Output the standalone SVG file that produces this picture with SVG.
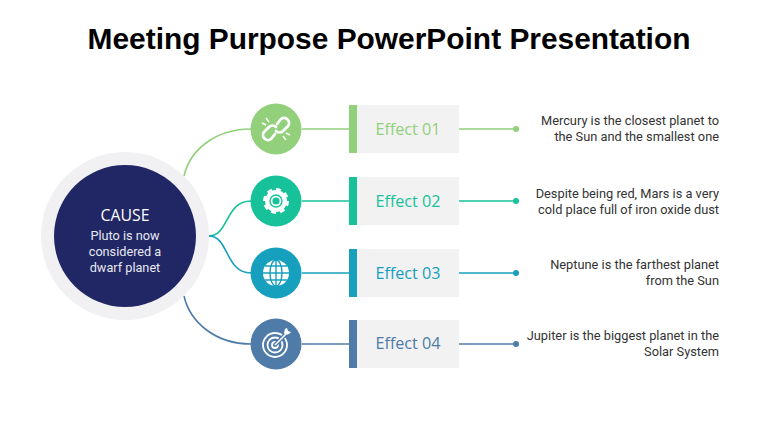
<svg xmlns="http://www.w3.org/2000/svg" width="768" height="432" viewBox="0 0 768 432">
<style>
.t{font-family:"Liberation Sans",Arial,sans-serif;font-weight:700;font-size:29.9px;fill:#000}
.b{font-family:Roboto,"Liberation Sans",sans-serif;font-size:12.8px;fill:#333;text-anchor:end}
.e{font-family:"Open Sans","Noto Sans",sans-serif;font-size:16.2px;text-anchor:middle}
.w{font-family:Roboto,sans-serif;font-size:12.7px;fill:#e8e8f0;text-anchor:middle}
.c{fill:none;stroke-width:1.6}
.i{fill:none;stroke:#fff}
.g1{stroke:#93d07c}.g2{stroke:#17c29b}.g3{stroke:#17a0bd}.g4{stroke:#4f7ba8}
.f1{fill:#93d07c}.f2{fill:#17c29b}.f3{fill:#17a0bd}.f4{fill:#4f7ba8}
</style>
<rect width="768" height="432" fill="#fff"/>
<text class="t" x="389" y="49" text-anchor="middle">Meeting Purpose PowerPoint Presentation</text>
<g id="connectors">
<path class="c g1" d="M184 176C190 150 215 129 251 129M302 129H349M459 129H516"/>
<path class="c g2" d="M209 236C229 236 225 201 251 201M302 201H349M459 201H516"/>
<path class="c g3" d="M209 236C229 236 225 273 251 273M302 273H349M459 273H516"/>
<path class="c g4" d="M184 296C190 322 215 344 251 344M302 344H349M459 344H516"/>
<circle class="f1" cx="516" cy="129" r="3"/><circle class="f2" cx="516" cy="201" r="3"/><circle class="f3" cx="516" cy="273" r="3"/><circle class="f4" cx="516" cy="344" r="3"/>
</g>
<g id="cause">
<circle cx="125" cy="236" r="84" fill="#f1f1f3"/>
<circle cx="125" cy="236" r="71" fill="#202764"/>
<text x="125" y="221" font-family="'Open Sans','Noto Sans',sans-serif" font-size="15.8" fill="#fff" text-anchor="middle">CAUSE</text>
<text class="w"><tspan x="125" y="240">Pluto is now</tspan><tspan x="125" y="256">considered a</tspan><tspan x="125" y="272">dwarf planet</tspan></text>
</g>
<g id="icon1"><circle class="f1" cx="276" cy="129" r="25.5"/>
<g class="i" style="stroke-width:2.8;stroke-linecap:round"><path d="M277 124l4-5a5 5 0 0 1 7 7l-5 5a5 5 0 0 1-7 0M275 134l-4 5a5 5 0 0 1-7-7l5-5a5 5 0 0 1 7 0"/></g>
<path class="i" style="stroke-width:1.5" d="M266 118l3 4M262 123l4 2M286 140l-3-4M290 135l-4-2"/></g>
<g id="icon2"><circle class="f2" cx="276" cy="201" r="25.5"/>
<circle cx="276" cy="201" r="11" fill="none" stroke="#fff" stroke-width="4" stroke-dasharray="4.6 4"/><circle cx="276" cy="201" r="11" fill="#fff"/><circle cx="276" cy="201" r="6" fill="none" stroke="#17c29b" stroke-width="1.4"/><circle cx="276" cy="201" r="3.6" fill="#17c29b"/></g>
<g id="icon3"><circle class="f3" cx="276" cy="273" r="25.5"/>
<circle cx="276" cy="273" r="13" fill="#fff"/>
<g fill="none" stroke="#17a0bd" stroke-width="1.4"><ellipse cx="276" cy="273" rx="6" ry="13"/><path d="M276 260v26M263 273h26M265 266h22M265 280h22"/></g></g>
<g id="icon4"><circle class="f4" cx="276" cy="344" r="25.5"/>
<g class="i" style="stroke-width:1.8"><circle cx="275" cy="345" r="12"/><circle cx="275" cy="345" r="7.5"/><circle cx="275" cy="345" r="3"/></g>
<path d="M275 345l10-10" stroke="#4f7ba8" stroke-width="4"/><path d="M275 345l11-11" stroke="#fff" stroke-width="1.6"/><path fill="#fff" d="M284 333l1-4 2-1 1 3 3 1-2 2-4 1z"/></g>
<g id="effect1"><rect x="349" y="105" width="110" height="48" fill="#f2f2f2"/><rect x="349" y="105" width="8" height="48" class="f1"/><text class="e" x="408" y="135" fill="#93d07c">Effect 01</text></g>
<g id="effect2"><rect x="349" y="177" width="110" height="48" fill="#f2f2f2"/><rect x="349" y="177" width="8" height="48" class="f2"/><text class="e" x="408" y="207" fill="#17c29b">Effect 02</text></g>
<g id="effect3"><rect x="349" y="249" width="110" height="48" fill="#f2f2f2"/><rect x="349" y="249" width="8" height="48" class="f3"/><text class="e" x="408" y="279" fill="#17a0bd">Effect 03</text></g>
<g id="effect4"><rect x="349" y="320" width="110" height="48" fill="#f2f2f2"/><rect x="349" y="320" width="8" height="48" class="f4"/><text class="e" x="408" y="349" fill="#4f7ba8">Effect 04</text></g>
<g id="desc1"><text class="b"><tspan x="719" y="125">Mercury is the closest planet to</tspan><tspan x="719" y="141">the Sun and the smallest one</tspan></text></g>
<g id="desc2"><text class="b"><tspan x="719" y="198">Despite being red, Mars is a very</tspan><tspan x="719" y="214">cold place full of iron oxide dust</tspan></text></g>
<g id="desc3"><text class="b"><tspan x="719" y="269">Neptune is the farthest planet</tspan><tspan x="719" y="285">from the Sun</tspan></text></g>
<g id="desc4"><text class="b"><tspan x="719" y="340">Jupiter is the biggest planet in the</tspan><tspan x="719" y="356">Solar System</tspan></text></g>
</svg>
